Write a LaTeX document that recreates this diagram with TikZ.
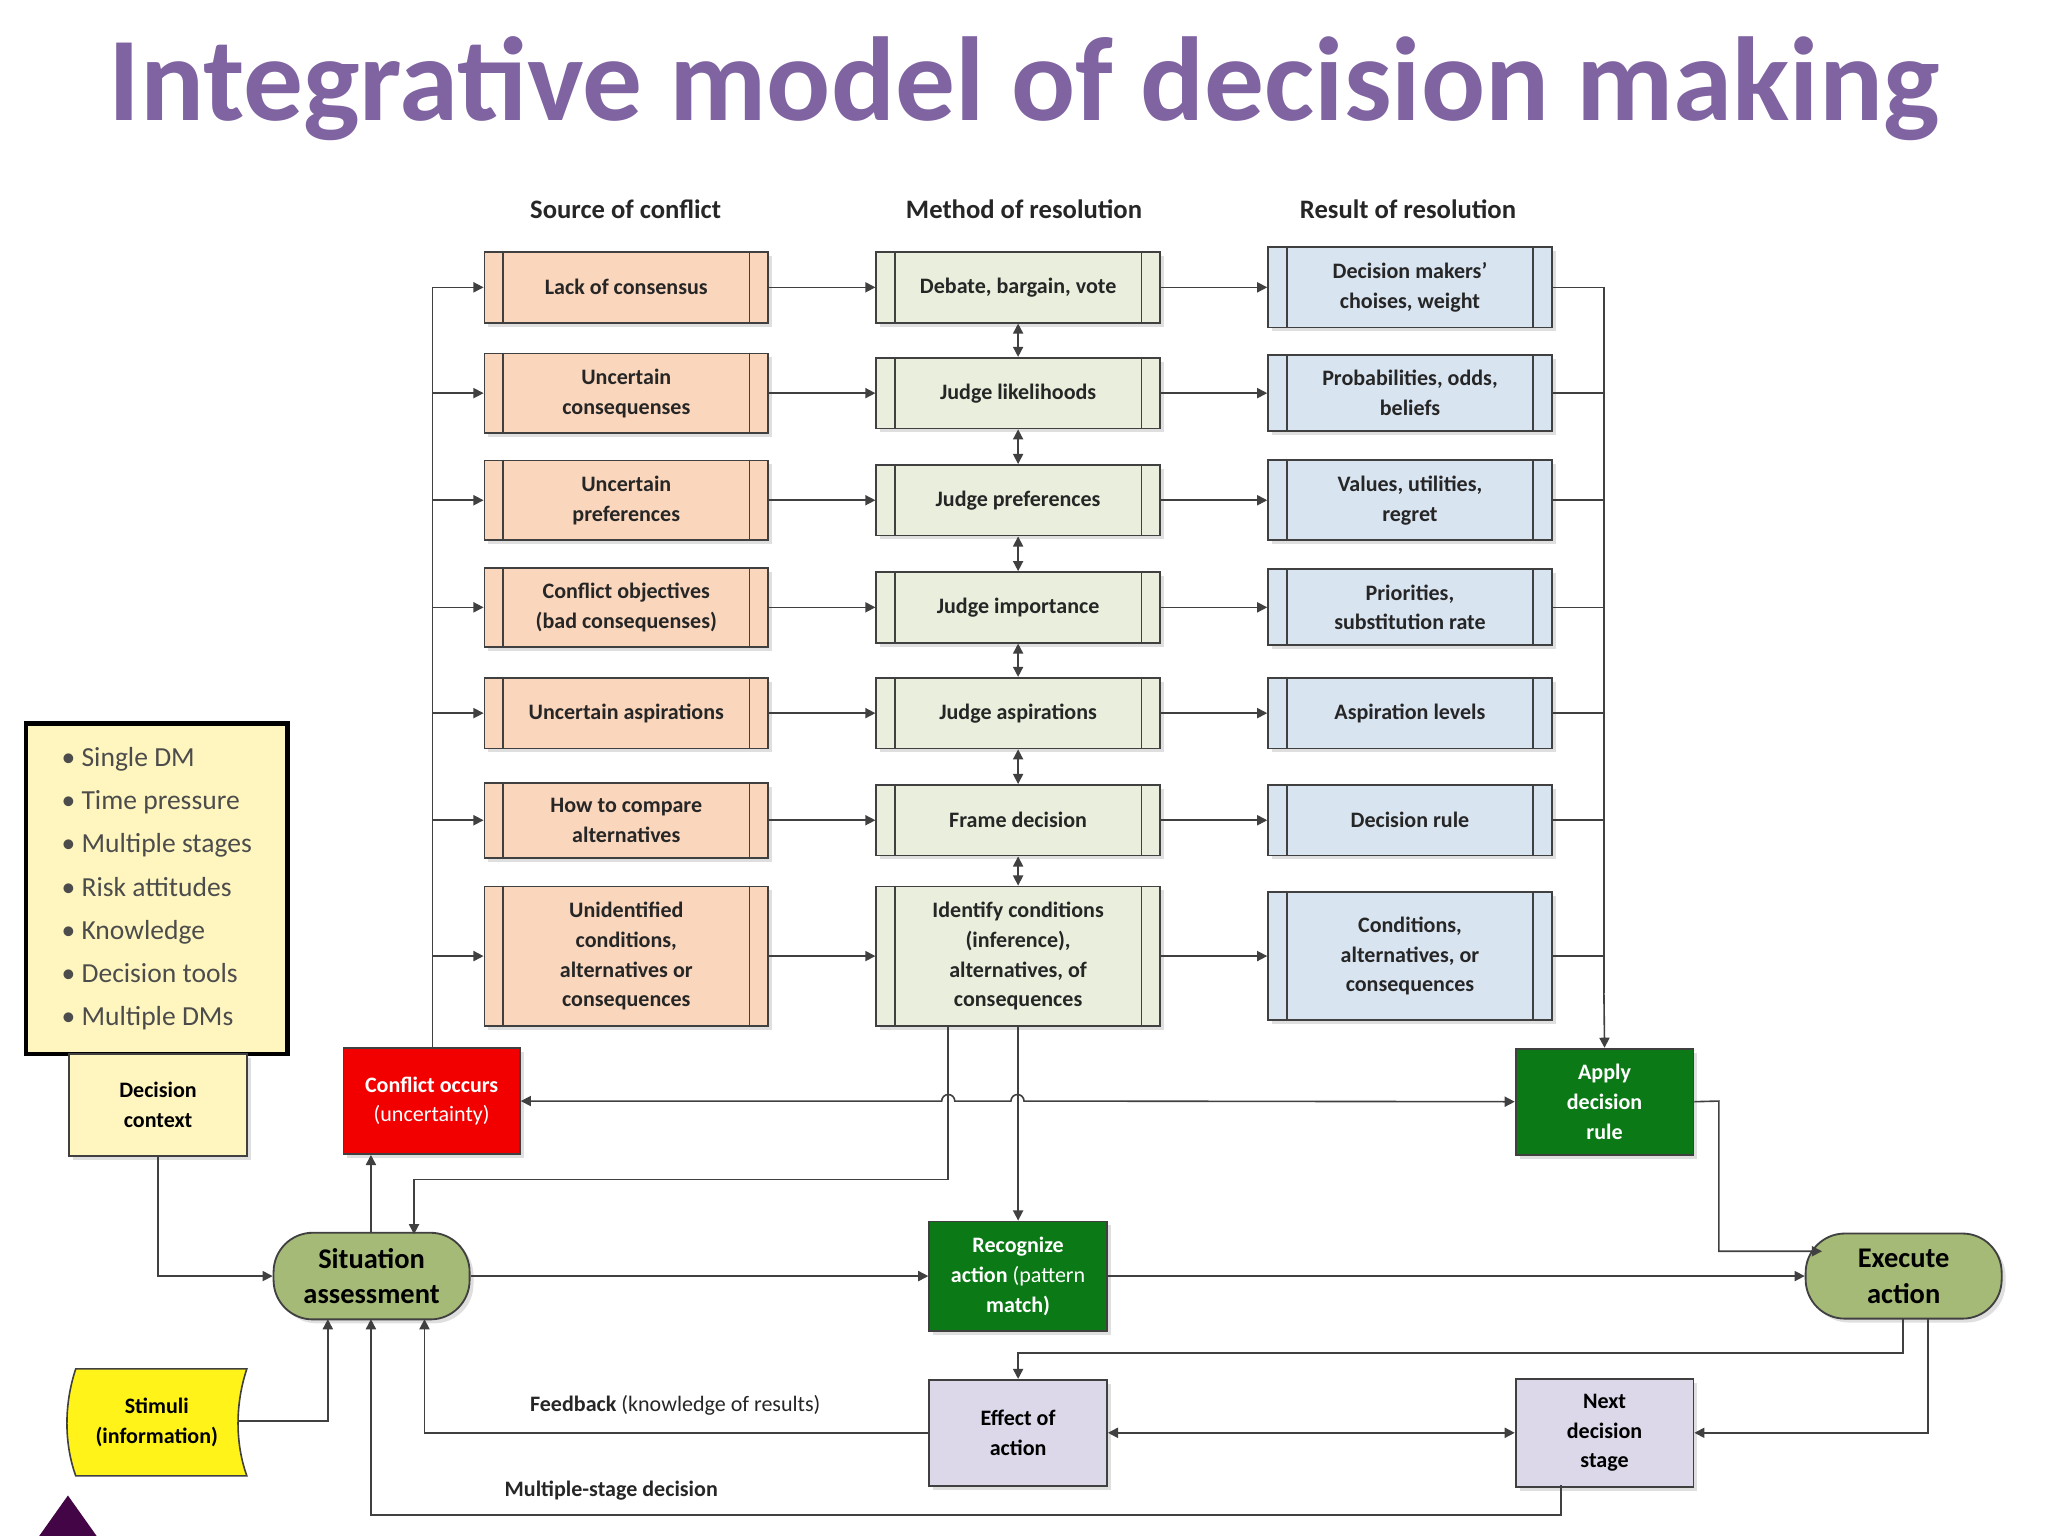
\documentclass[tikz,border=0pt]{standalone}
\usepackage{fontspec}
\setmainfont{Carlito}
\usetikzlibrary{positioning,shadows,arrows.meta,calc}
\definecolor{ttl}{HTML}{8064A2}
\definecolor{ln}{HTML}{404040}
\definecolor{peach}{HTML}{FAD6BC}
\definecolor{sage}{HTML}{E9EFDC}
\definecolor{sky}{HTML}{D9E4F1}
\definecolor{olive}{HTML}{A6BA78}
\definecolor{grn}{HTML}{0B7A16}
\definecolor{lav}{HTML}{DCD8EA}
\definecolor{pale}{HTML}{FFF6BF}
\tikzset{
  proc/.style={draw=ln, minimum width=2.17cm, minimum height=0.54cm, align=center,
    font=\fontsize{4.8}{6.5}\selectfont\bfseries, text=black!85, drop shadow={opacity=0.25,shadow xshift=0.03cm,shadow yshift=-0.03cm}},
  src/.style={proc, fill=peach},
  mth/.style={proc, fill=sage},
  res/.style={proc, fill=sky},
  blk/.style={draw=ln, minimum width=1.36cm, minimum height=0.81cm, align=center,
    font=\fontsize{4.8}{6.5}\selectfont\bfseries, drop shadow={opacity=0.25,shadow xshift=0.03cm,shadow yshift=-0.03cm}},
  pill/.style={draw=ln, fill=olive, rounded corners=0.3cm, minimum width=1.5cm, minimum height=0.65cm,
    align=center, font=\fontsize{6.2}{7.8}\selectfont\bfseries, drop shadow={opacity=0.25,shadow xshift=0.03cm,shadow yshift=-0.03cm}},
  con/.style={draw=ln, line width=0.35pt, -{Triangle[length=2.2pt,width=2.2pt]}},
  hdr/.style={font=\fontsize{5.8}{7}\selectfont\bfseries, text=black!85},
}
\newcommand{\bars}[1]{\foreach \n in {#1}{
  \draw[ln, line width=0.3pt] ([xshift=0.15cm]\n.north west) -- ([xshift=0.15cm]\n.south west);
  \draw[ln, line width=0.3pt] ([xshift=-0.15cm]\n.north east) -- ([xshift=-0.15cm]\n.south east);}}
\begin{document}
\begin{tikzpicture}[x=0.01cm, y=-0.01cm]
  \useasboundingbox (0,0) rectangle (1568,1176);
  \node[text=ttl, font=\fontsize{26}{30}\selectfont\bfseries] (title) at (784,68) {Integrative model of decision making};
  % column headers
  \node[hdr] (h1) at (479,160) {Source of conflict};
  \node[hdr] (h2) at (784,160) {Method of resolution};
  \node[hdr] (h3) at (1078,160) {Result of resolution};
  % source of conflict
  \node[src] (lack)    at (479.5,220) {Lack of consensus};
  \node[src] (uncons)  at (479.5,301) {Uncertain\\consequenses};
  \node[src] (unpref)  at (479.5,383) {Uncertain\\preferences};
  \node[src] (confobj) at (479.5,465) {Conflict objectives\\(bad consequenses)};
  \node[src] (unasp)   at (479.5,546) {Uncertain aspirations};
  \node[src] (howcmp)  at (479.5,628) {How to compare\\alternatives};
  \node[src, minimum height=0.98cm] (unid) at (479.5,732) {Unidentified\\conditions,\\alternatives or\\consequences};
  % method of resolution
  \node[mth] (debate) at (779.5,220) {Debate, bargain, vote};
  \node[mth] (likeli) at (779.5,301) {Judge likelihoods};
  \node[mth] (prefs)  at (779.5,383) {Judge preferences};
  \node[mth] (imprt)  at (779.5,465) {Judge importance};
  \node[mth] (aspir)  at (779.5,546) {Judge aspirations};
  \node[mth] (frame)  at (779.5,628) {Frame decision};
  \node[mth, minimum height=0.98cm] (ident) at (779.5,732) {Identify conditions\\(inference),\\alternatives, of\\consequences};
  % result of resolution
  \node[res] (choice) at (1079.5,220) {Decision makers'\\choises, weight};
  \node[res] (probs)  at (1079.5,301) {Probabilities, odds,\\beliefs};
  \node[res] (vals)   at (1079.5,383) {Values, utilities,\\regret};
  \node[res] (prior)  at (1079.5,465) {Priorities,\\substitution rate};
  \node[res] (asplev) at (1079.5,546) {Aspiration levels};
  \node[res] (rule)   at (1079.5,628) {Decision rule};
  \node[res, minimum height=0.98cm] (conds) at (1079.5,732) {Conditions,\\alternatives, or\\consequences};
  \bars{lack,uncons,unpref,confobj,unasp,howcmp,unid,debate,likeli,prefs,imprt,aspir,frame,ident,choice,probs,vals,prior,asplev,rule,conds}
  % context
  \node[draw=black, line width=1pt, fill=pale, minimum width=2cm, minimum height=2.53cm, align=left,
    text=black!70, font=\fontsize{6}{9.4}\selectfont] (ctxlist) at (120,680.5)
    {\textbullet\ Single DM\\\textbullet\ Time pressure\\\textbullet\ Multiple stages\\\textbullet\ Risk attitudes\\
     \textbullet\ Knowledge\\\textbullet\ Decision tools\\\textbullet\ Multiple DMs};
  \node[blk, fill=pale, minimum height=0.78cm] (ctx) at (121,846) {Decision\\context};
  \node[blk, fill=red!95!black, text=white, minimum width=1.35cm] (conflict) at (330.5,843)
    {Conflict occurs\\\mdseries(uncertainty)};
  \node[blk, fill=grn, text=white] (apply) at (1228.5,843.5) {Apply\\decision\\rule};
  \node[pill] (situ) at (284.5,977) {Situation\\assessment};
  \node[blk, fill=grn, text=white] (recog) at (779.5,977) {Recognize\\action \mdseries(pattern\\match)};
  \node[pill] (exec) at (1457.5,977) {Execute\\action};
  \node[blk, fill=lav] (effect) at (779.5,1097) {Effect of\\action};
  \node[blk, fill=lav] (next) at (1228.5,1097) {Next\\decision\\stage};
  \fill[yellow!90!white, draw=ln, line width=0.35pt] (58,1048) -- (189,1048) .. controls (180,1075) and (180,1105) .. (189,1130)
    -- (58,1130) .. controls (49,1105) and (49,1075) .. (58,1048) -- cycle;
  \node[font=\fontsize{4.8}{6.5}\selectfont\bfseries, align=center] (stim) at (120,1089) {Stimuli\\(information)};
  \coordinate (stimr) at (183,1088);
  \fill[ttl!40!black!20!violet!60!black] (30,1176) -- (52,1145) -- (74,1176) -- cycle;
  % rows
  \foreach \a/\b/\c in {lack/debate/choice,uncons/likeli/probs,unpref/prefs/vals,confobj/imprt/prior,
      unasp/aspir/asplev,howcmp/frame/rule,unid/ident/conds}{
    \draw[con] (\a) -- (\b);
    \draw[con] (\b) -- (\c);
    \draw[con] (conflict.north -| 331,0) |- (\a.west);
    \draw[ln, line width=0.35pt] (\c.east) -| (1228,760);
  }
  \foreach \a/\b in {debate/likeli,likeli/prefs,prefs/imprt,imprt/aspir,aspir/frame,frame/ident}
    \draw[con, {Triangle[length=2.2pt,width=2.2pt]}-{Triangle[length=2.2pt,width=2.2pt]}] (\a) -- (\b);
  \draw[con] (1228,760) -- (apply.north);
  \draw[con, {Triangle[length=2.2pt,width=2.2pt]}-{Triangle[length=2.2pt,width=2.2pt]}] (conflict.east)
    -- (721,843) arc (180:0:0.05cm) -- (774,843) arc (180:0:0.05cm) -- (apply.west);
  \draw[con] (ident.south -| 726,0) -- (726,903) -| (317,945);
  \draw[con] (ident.south) -- (recog.north);
  \draw[con] (situ.north -| 284,0) -- (conflict.south -| 284,0);
  \draw[con] (ctx.south) |- (situ.west);
  \draw[con] (situ.east) -- (recog.west);
  \draw[con] (recog.east) -- (exec.west);
  \draw[con] (apply.east) -- (1316,843) |- (1395,958);
  \draw[con] (stimr) -| (251,1010);
  \draw[con] (1457,1010) -- (1457,1036) -| (effect.north);
  \draw[con] (1476,1010) |- (next.east);
  \draw[con, {Triangle[length=2.2pt,width=2.2pt]}-{Triangle[length=2.2pt,width=2.2pt]}] (effect.east) -- (next.west);
  \draw[con] (effect.west) -| (325,1010);
  \draw[con] (1195,1137) -- (1195,1160) -| (284,1010);
  \node[font=\fontsize{4.8}{6}\selectfont, text=black!85] (fb) at (517,1076) {\textbf{Feedback} (knowledge of results)};
  \node[font=\fontsize{4.8}{6}\selectfont\bfseries, text=black!85] (ms) at (468,1141) {Multiple-stage decision};
\end{tikzpicture}
\end{document}
